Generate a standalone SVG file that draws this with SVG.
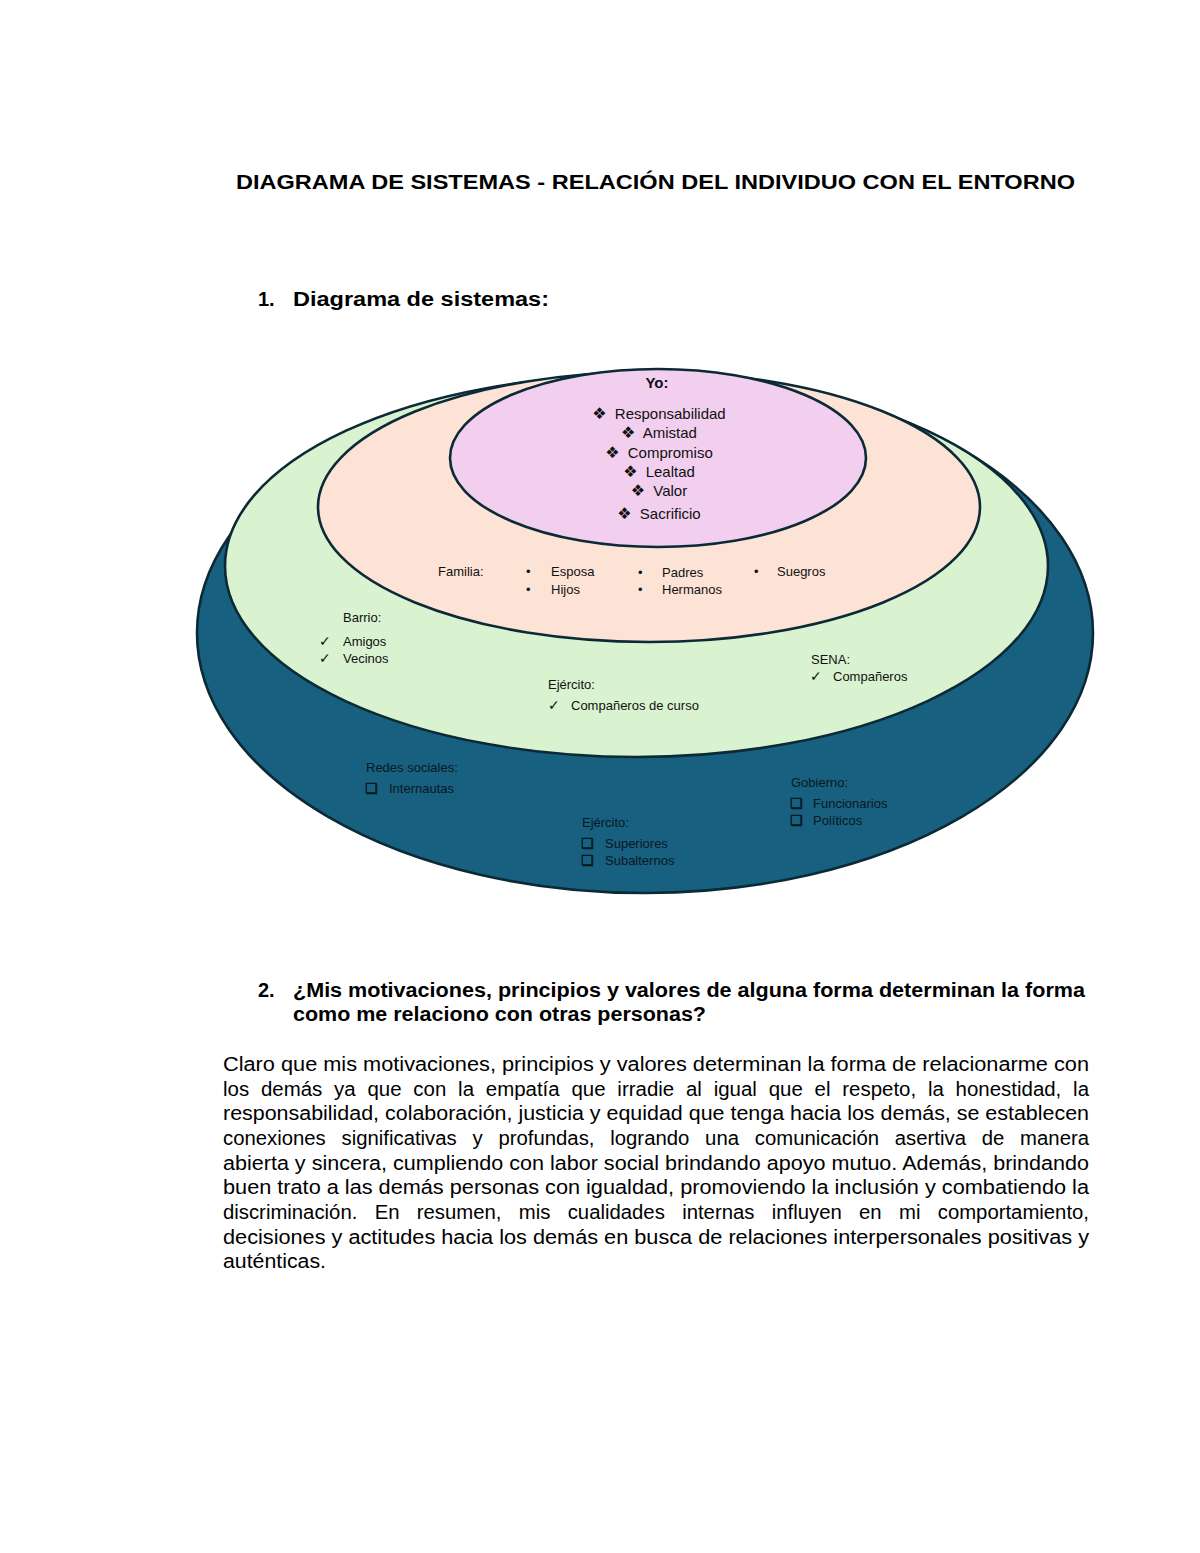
<svg xmlns="http://www.w3.org/2000/svg" width="1200" height="1553" viewBox="0 0 1200 1553">
<style>
.ell{stroke:#0b2a36;stroke-width:2.6}
.h{font-family:"Liberation Sans",Arial,sans-serif;font-weight:bold;fill:#000}
.p{font-family:"Liberation Sans",Arial,sans-serif;font-size:20px;fill:#000}
.t{font-family:"Liberation Sans",Arial,sans-serif;font-size:13px;fill:#111}
.td{font-family:"Liberation Sans",Arial,sans-serif;font-size:13px;fill:#0a1820}
.s{font-family:"DejaVu Sans",sans-serif;font-size:14px;fill:#111}
.sd{font-family:"DejaVu Sans",sans-serif;font-size:14px;font-weight:bold;fill:#0a1820;stroke:#0a1820;stroke-width:0.6}
.y{font-family:"Liberation Sans",Arial,sans-serif;font-size:15px;fill:#111;text-anchor:middle}
.dm{font-family:"DejaVu Sans",sans-serif;font-size:16px}
</style>
<rect width="1200" height="1553" fill="#fff"/>
<text class="h" x="236" y="189" font-size="21" textLength="839" lengthAdjust="spacingAndGlyphs">DIAGRAMA DE SISTEMAS - RELACIÓN DEL INDIVIDUO CON EL ENTORNO</text>
<text class="h" x="258" y="306" font-size="20">1.</text>
<text class="h" x="293" y="306" font-size="20" textLength="256" lengthAdjust="spacingAndGlyphs">Diagrama de sistemas:</text>

<g id="sociedad">
<ellipse class="ell" cx="645" cy="633" rx="448" ry="260" fill="#17607f"/>
<text class="td" x="366" y="772">Redes sociales:</text>
<text class="sd" x="365" y="793">❑</text><text class="td" x="389" y="793">Internautas</text>
<text class="td" x="582" y="827">Ejército:</text>
<text class="sd" x="581" y="848">❑</text><text class="td" x="605" y="848">Superiores</text>
<text class="sd" x="581" y="865">❑</text><text class="td" x="605" y="865">Subalternos</text>
<text class="td" x="791" y="787">Gobierno:</text>
<text class="sd" x="790" y="808">❑</text><text class="td" x="813" y="808">Funcionarios</text>
<text class="sd" x="790" y="825">❑</text><text class="td" x="813" y="825">Políticos</text>
</g>

<g id="comunidad">
<ellipse class="ell" cx="636.5" cy="566" rx="411.5" ry="191" fill="#d9f2d0"/>
<text class="t" x="343" y="622">Barrio:</text>
<text class="s" x="319" y="646">✓</text><text class="t" x="343" y="646">Amigos</text>
<text class="s" x="319" y="663">✓</text><text class="t" x="343" y="663">Vecinos</text>
<text class="t" x="548" y="689">Ejército:</text>
<text class="s" x="548" y="710">✓</text><text class="t" x="571" y="710">Compañeros de curso</text>
<text class="t" x="811" y="664">SENA:</text>
<text class="s" x="810" y="681">✓</text><text class="t" x="833" y="681">Compañeros</text>
</g>

<g id="familia">
<ellipse class="ell" cx="649" cy="507" rx="331" ry="135" fill="#fce3d6"/>
<text class="t" x="438" y="576">Familia:</text>
<text class="t" x="526" y="576">•</text><text class="t" x="551" y="576">Esposa</text>
<text class="t" x="526" y="594">•</text><text class="t" x="551" y="594">Hijos</text>
<text class="t" x="638" y="577">•</text><text class="t" x="662" y="577">Padres</text>
<text class="t" x="638" y="594">•</text><text class="t" x="662" y="594">Hermanos</text>
<text class="t" x="754" y="576">•</text><text class="t" x="777" y="576">Suegros</text>
</g>

<g id="yo">
<ellipse class="ell" cx="658" cy="458" rx="208" ry="89" fill="#f2cfef"/>
<text class="y" x="657" y="388" font-weight="bold">Yo:</text>
<text class="y" x="659" y="419"><tspan class="dm">❖</tspan><tspan dx="4">  Responsabilidad</tspan></text>
<text class="y" x="659" y="438"><tspan class="dm">❖</tspan><tspan dx="4">  Amistad</tspan></text>
<text class="y" x="659" y="458"><tspan class="dm">❖</tspan><tspan dx="4">  Compromiso</tspan></text>
<text class="y" x="659" y="477"><tspan class="dm">❖</tspan><tspan dx="4">  Lealtad</tspan></text>
<text class="y" x="659" y="496"><tspan class="dm">❖</tspan><tspan dx="4">  Valor</tspan></text>
<text class="y" x="659" y="519"><tspan class="dm">❖</tspan><tspan dx="4">  Sacrificio</tspan></text>
</g>

<g id="connectors"></g>

<text class="h" x="258" y="997" font-size="20">2.</text>
<text class="h" x="293" y="997" font-size="20" textLength="792" lengthAdjust="spacingAndGlyphs">¿Mis motivaciones, principios y valores de alguna forma determinan la forma</text>
<text class="h" x="293" y="1021" font-size="20" textLength="413" lengthAdjust="spacingAndGlyphs">como me relaciono con otras personas?</text>

<g id="parrafo">
<text class="p" x="223" y="1071" textLength="866" lengthAdjust="spacingAndGlyphs">Claro que mis motivaciones, principios y valores determinan la forma de relacionarme con</text>
<text class="p" x="223" y="1096" textLength="866" lengthAdjust="spacingAndGlyphs" word-spacing="6">los demás ya que con la empatía que irradie al igual que el respeto, la honestidad, la</text>
<text class="p" x="223" y="1120" textLength="866" lengthAdjust="spacingAndGlyphs">responsabilidad, colaboración, justicia y equidad que tenga hacia los demás, se establecen</text>
<text class="p" x="223" y="1145" textLength="866" lengthAdjust="spacingAndGlyphs" word-spacing="10">conexiones significativas y profundas, logrando una comunicación asertiva de manera</text>
<text class="p" x="223" y="1170" textLength="866" lengthAdjust="spacingAndGlyphs">abierta y sincera, cumpliendo con labor social brindando apoyo mutuo. Además, brindando</text>
<text class="p" x="223" y="1194" textLength="866" lengthAdjust="spacingAndGlyphs">buen trato a las demás personas con igualdad, promoviendo la inclusión y combatiendo la</text>
<text class="p" x="223" y="1219" textLength="866" lengthAdjust="spacingAndGlyphs" word-spacing="11.5">discriminación. En resumen, mis cualidades internas influyen en mi comportamiento,</text>
<text class="p" x="223" y="1244" textLength="866" lengthAdjust="spacingAndGlyphs">decisiones y actitudes hacia los demás en busca de relaciones interpersonales positivas y</text>
<text class="p" x="223" y="1268" textLength="103" lengthAdjust="spacingAndGlyphs">auténticas.</text>
</g>
</svg>
